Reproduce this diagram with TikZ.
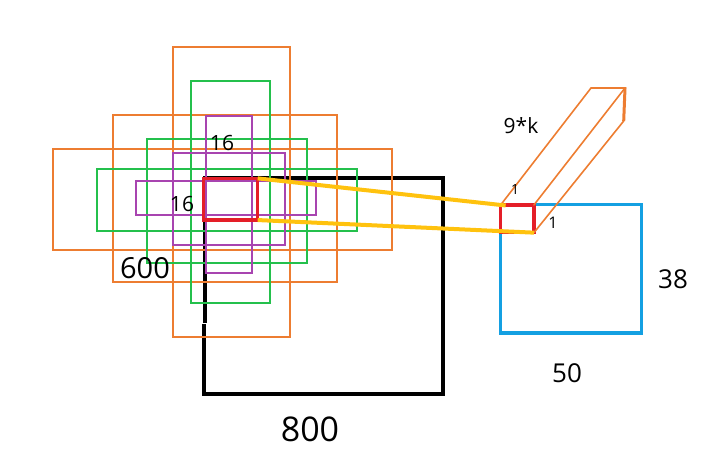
\documentclass[tikz,border=0pt]{standalone}
\usepackage{fontspec}
\setmainfont{Open Sans}
\definecolor{cOrange}{RGB}{237,125,49}
\definecolor{cGreen}{RGB}{36,192,76}
\definecolor{cPurple}{RGB}{168,68,176}
\definecolor{cRed}{RGB}{228,30,40}
\definecolor{cBlue}{RGB}{20,160,226}
\definecolor{cYellow}{RGB}{255,194,14}
\tikzset{
  orangebox/.style={draw=cOrange, line width=2pt},
  greenbox/.style={draw=cGreen, line width=2pt},
  purplebox/.style={draw=cPurple, line width=2pt},
  redbox/.style={draw=cRed, line width=3.5pt, inner sep=0pt, outer sep=0pt},
  blackbox/.style={draw=black, line width=4pt},
  bluebox/.style={draw=cBlue, line width=3.5pt, inner sep=0pt, outer sep=0pt},
  beam/.style={draw=cYellow, line width=4pt},
  prism/.style={draw=cOrange, line width=1.6pt, line cap=round},
  lbl/.style={inner sep=0pt, text=black},
}
\newcommand{\fs}[1]{\fontsize{#1}{#1}\selectfont}
\begin{document}
\begin{tikzpicture}[x=1pt, y=-1pt]
\useasboundingbox (0,0) rectangle (714,460);
% big black rectangle (with small jog in left edge)
\draw[blackbox, line cap=butt] (204.7,323) -- (204.7,178) -- (442.5,178) -- (442.5,393.5) -- (203.5,393.5) -- (203.5,323.5);
% feature map rectangles
\draw[orangebox] (173.3,47) rectangle (290,337);
\draw[orangebox] (112.7,115) rectangle (336.7,281.7);
\draw[orangebox] (53.3,149.3) rectangle (392.3,250);
\draw[greenbox] (190.7,80.7) rectangle (270,302.7);
\draw[greenbox] (146.7,139.3) rectangle (306.7,263.3);
\draw[greenbox] (96.7,169.3) rectangle (356.7,230.7);
\draw[purplebox] (205.7,116) rectangle (252,272.7);
\draw[purplebox] (172.7,153.3) rectangle (285,245);
\draw[purplebox] (135.7,180.7) rectangle (316,215);
% small red window
\node[redbox, minimum width=54.4pt, minimum height=41.7pt] (win) at (230.5,199.2) {};
% blue output map
\node[bluebox, minimum width=141pt, minimum height=128.7pt] (outmap) at (571.2,268.7) {};
% orange prism
\coordinate (pA) at (591,88);
\coordinate (pB) at (625,88);
\coordinate (pC) at (623.7,121);
\node[redbox, minimum width=33.3pt, minimum height=27.7pt] (cell) at (517.3,218.8) {};
\draw[prism] (cell.north west) -- (pA) -- (pB) -- (cell.north east);
\draw[prism] (cell.south east) -- (pC);
\draw[draw=cOrange, line width=3pt] (pB) -- (pC);
% yellow beams
\draw[beam] (win.north east) -- (cell.north west) -- ++(5,0.5);
\draw[beam] (win.south east) -- (cell.south east);
% labels
\node[lbl] (l600) at (145,268) {\fs{29}600};
\node[lbl] (l800) at (310,429) {\fs{34}800};
\node[lbl] (l16a) at (222,143) {\fs{21}16};
\node[lbl] (l16b) at (182,204) {\fs{21}16};
\node[lbl] (l9k) at (521,126) {\fs{21}9*k};
\node[lbl] (l1a) at (515,190) {\fs{14}1};
\node[lbl] (l1b) at (553,223) {\fs{16}1};
\node[lbl] (l38) at (673,279) {\fs{26}38};
\node[lbl] (l50) at (567,373) {\fs{26}50};
\end{tikzpicture}
\end{document}
